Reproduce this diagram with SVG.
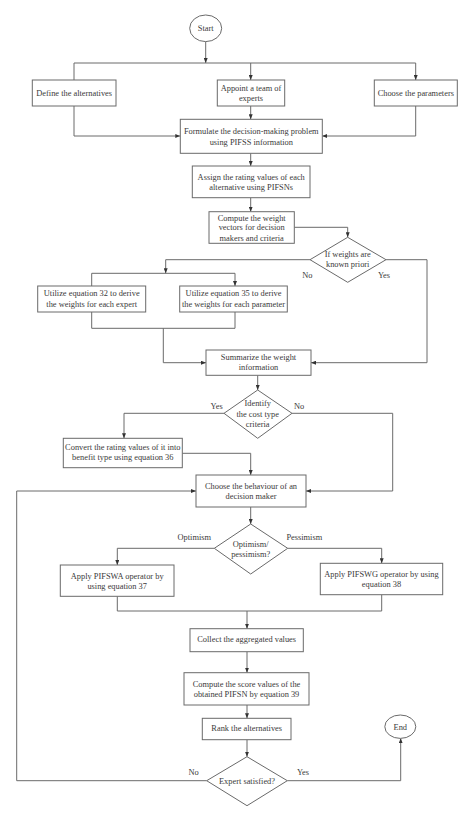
<svg xmlns="http://www.w3.org/2000/svg" width="474" height="823" viewBox="0 0 474 823">
<style>
.n{fill:#fff;stroke:#6a6a6a;stroke-width:1}
.t{font-family:"Liberation Serif","Times New Roman",serif;font-size:8.4px;fill:#3a3a3a;text-anchor:middle}
.c{fill:none;stroke:#6a6a6a;stroke-width:1}
.a{marker-end:url(#ah)}
</style>
<defs>
<marker id="ah" viewBox="0 0 10 8" refX="10" refY="4" markerWidth="5" markerHeight="4" orient="auto" markerUnits="userSpaceOnUse">
<path d="M0,0 L10,4 L0,8 z" fill="#333"/>
</marker>
</defs>
<rect width="474" height="823" fill="#fff"/>
<g id="connectors">
<path class="c a" d="M205.7,41.7 V63"/>
<path class="c a" d="M74,80 V63 H415.7 V80"/>
<path class="c a" d="M250.7,63 V80"/>
<path class="c a" d="M74,106 V136 H180.3"/>
<path class="c a" d="M415.7,106 V136 H322.3"/>
<path class="c a" d="M250.7,106 V119.3"/>
<path class="c a" d="M250.7,153.3 V166"/>
<path class="c a" d="M250.7,197.7 V211.7"/>
<path class="c a" d="M294.3,227.3 H347.7 V237.3"/>
<path class="c a" d="M310,259.7 H165.7 V273.3"/>
<path class="c a" d="M91.7,286 V273.3 H235 V286"/>
<path class="c a" d="M386,259.7 H427 V362.7 H311"/>
<path class="c" d="M91.7,312 V328.3 H235 V312"/>
<path class="c a" d="M163.3,328.3 V362.7 H206"/>
<path class="c a" d="M257.7,375.3 V390"/>
<path class="c a" d="M224,413.3 H124 V438.3"/>
<path class="c a" d="M292,413.3 H392.7 V491 H306"/>
<path class="c a" d="M182.3,453.3 H250.7 V475"/>
<path class="c a" d="M250.7,507 V524"/>
<path class="c a" d="M214.3,548.3 H117.3 V565"/>
<path class="c a" d="M287.7,548.3 H381.7 V563.3"/>
<path class="c" d="M117.3,596.3 V611 H381.7 V594.7"/>
<path class="c a" d="M247,611 V628.7"/>
<path class="c a" d="M247,651.7 V672.7"/>
<path class="c a" d="M247,705 V718.3"/>
<path class="c a" d="M247,739.7 V756.7"/>
<path class="c a" d="M287.3,780.7 H400.7 V738.3"/>
<path class="c a" d="M206.7,780.7 H16.7 V491 H196"/>
<text class="t" x="307.3" y="277.8">No</text>
<text class="t" x="384" y="277.8">Yes</text>
<text class="t" x="216.7" y="408.8">Yes</text>
<text class="t" x="299" y="408.8">No</text>
<text class="t" x="194.3" y="539.5">Optimism</text>
<text class="t" x="304.3" y="539.5">Pessimism</text>
<text class="t" x="193.7" y="774.5">No</text>
<text class="t" x="303" y="774.5">Yes</text>
</g>
<g id="start">
<ellipse class="n" cx="205.7" cy="28.3" rx="16" ry="13.3"/>
<text class="t" x="205.7" y="31.1">Start</text>
</g>
<g id="define">
<rect class="n" x="32.3" y="80" width="83.7" height="26"/>
<text class="t" x="74.2" y="95.8">Define the alternatives</text>
</g>
<g id="appoint">
<rect class="n" x="217.3" y="80" width="67.4" height="26"/>
<text class="t" x="251" y="90.7">Appoint a team of</text>
<text class="t" x="251" y="100.8">experts</text>
</g>
<g id="choose-params">
<rect class="n" x="374.3" y="80" width="83" height="26"/>
<text class="t" x="415.8" y="95.8">Choose the parameters</text>
</g>
<g id="formulate">
<rect class="n" x="180.3" y="119.3" width="142" height="34"/>
<text class="t" x="251.3" y="133.8">Formulate the decision-making problem</text>
<text class="t" x="251.3" y="144.5">using PIFSS information</text>
</g>
<g id="assign">
<rect class="n" x="192.3" y="166" width="117.7" height="31.7"/>
<text class="t" x="251.2" y="179.5">Assign the rating values of each</text>
<text class="t" x="251.2" y="190.1">alternative using PIFSNs</text>
</g>
<g id="compute-weight">
<rect class="n" x="209" y="211.7" width="85.3" height="31.6"/>
<text class="t" x="251.7" y="221.1">Compute the weight</text>
<text class="t" x="251.7" y="230.3">vectors for decision</text>
<text class="t" x="251.7" y="240.5">makers and criteria</text>
</g>
<g id="weights-known">
<polygon class="n" points="347.7,237.3 386,259.7 347.7,282.3 310,259.7"/>
<text class="t" x="347.7" y="257.1">If weights are</text>
<text class="t" x="347.7" y="267.1">known priori</text>
</g>
<g id="utilize32">
<rect class="n" x="37.7" y="286" width="108" height="26"/>
<text class="t" x="91.7" y="296.1">Utilize equation 32 to derive</text>
<text class="t" x="91.7" y="306.8">the weights for each expert</text>
</g>
<g id="utilize35">
<rect class="n" x="179.7" y="286" width="107.6" height="26"/>
<text class="t" x="233.5" y="296.1">Utilize equation 35 to derive</text>
<text class="t" x="233.5" y="306.8">the weights for each parameter</text>
</g>
<g id="summarize">
<rect class="n" x="206" y="350" width="105" height="25.3"/>
<text class="t" x="258.5" y="360.1">Summarize the weight</text>
<text class="t" x="258.5" y="370.1">information</text>
</g>
<g id="identify">
<polygon class="n" points="257.7,390 292,413.3 257.7,438.3 224,413.3"/>
<text class="t" x="257.7" y="406.1">Identify</text>
<text class="t" x="257.7" y="416.8">the cost type</text>
<text class="t" x="257.7" y="427.1">criteria</text>
</g>
<g id="convert">
<rect class="n" x="63.3" y="438.3" width="119" height="29.4"/>
<text class="t" x="122.8" y="449.5">Convert the rating values of it into</text>
<text class="t" x="122.8" y="460.1">benefit type using equation 36</text>
</g>
<g id="choose-behaviour">
<rect class="n" x="196" y="475" width="110" height="32"/>
<text class="t" x="251" y="488.5">Choose the behaviour of an</text>
<text class="t" x="251" y="498.8">decision maker</text>
</g>
<g id="optimism">
<polygon class="n" points="250.7,524 287.7,548.3 250.7,574 214.3,548.3"/>
<text class="t" x="250.7" y="547.1">Optimism/</text>
<text class="t" x="250.7" y="557.1">pessimism?</text>
</g>
<g id="pifswa">
<rect class="n" x="60.3" y="565" width="113.7" height="31.3"/>
<text class="t" x="117.2" y="578.5">Apply PIFSWA operator by</text>
<text class="t" x="117.2" y="588.8">using equation 37</text>
</g>
<g id="pifswg">
<rect class="n" x="320.3" y="563.3" width="122.4" height="31.4"/>
<text class="t" x="381.5" y="577.1">Apply PIFSWG operator by using</text>
<text class="t" x="381.5" y="586.8">equation 38</text>
</g>
<g id="collect">
<rect class="n" x="190" y="628.7" width="113.3" height="23"/>
<text class="t" x="246.7" y="642.1">Collect the aggregated values</text>
</g>
<g id="compute-score">
<rect class="n" x="184" y="672.7" width="125" height="32.3"/>
<text class="t" x="246.5" y="686.8">Compute the score values of the</text>
<text class="t" x="246.5" y="696.8">obtained PIFSN by equation 39</text>
</g>
<g id="rank">
<rect class="n" x="202.3" y="718.3" width="88.7" height="21.4"/>
<text class="t" x="246.7" y="731.1">Rank the alternatives</text>
</g>
<g id="expert-satisfied">
<polygon class="n" points="247,756.7 287.3,780.7 247,805.7 206.7,780.7"/>
<text class="t" x="247" y="783.5">Expert satisfied?</text>
</g>
<g id="end">
<ellipse class="n" cx="400.3" cy="726.7" rx="15.5" ry="11.7"/>
<text class="t" x="400.3" y="729.5">End</text>
</g>
</svg>
